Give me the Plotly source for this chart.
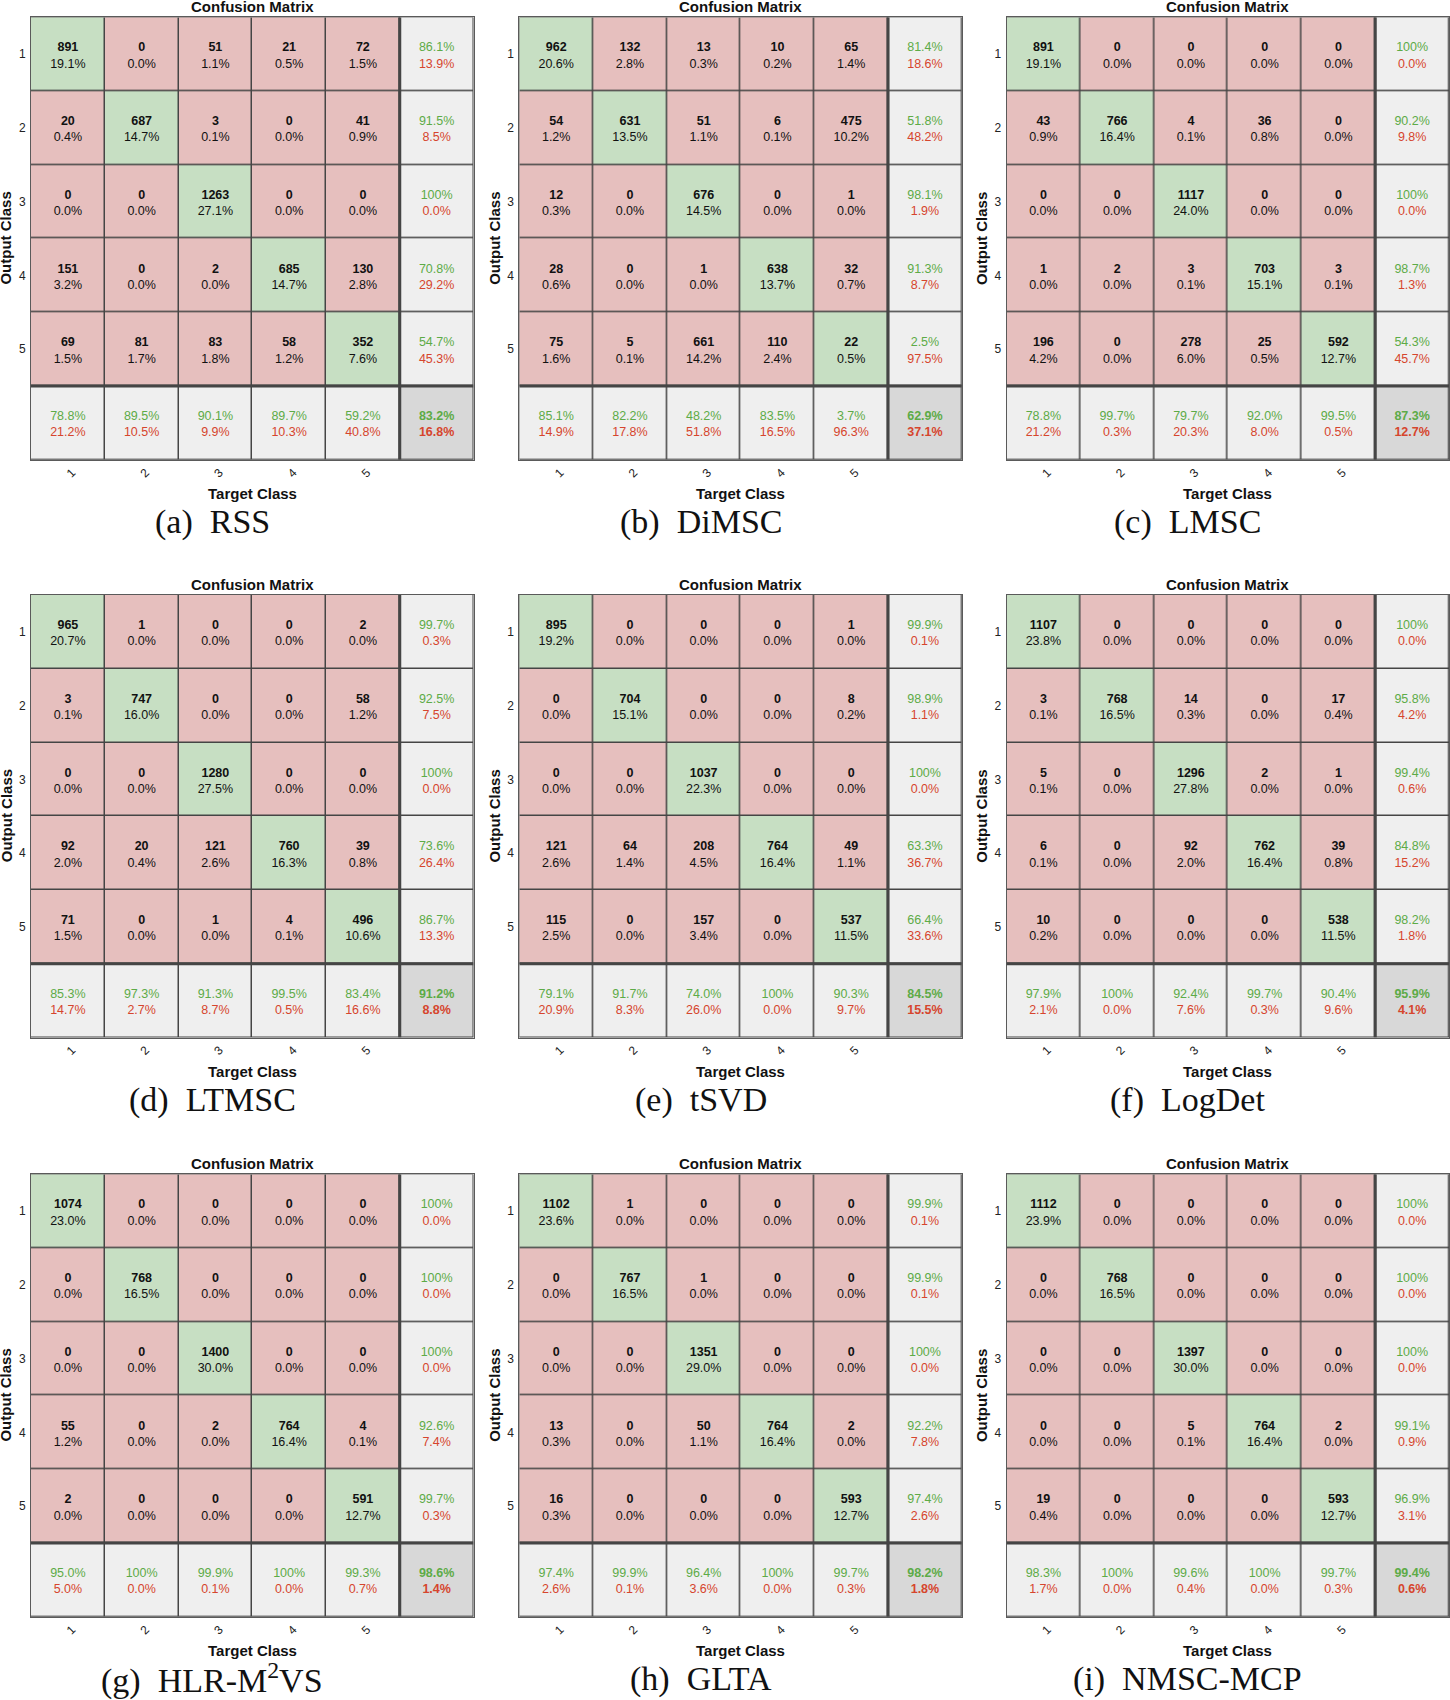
import plotly.graph_objects as go

W, H = 1450, 1700
CLASSES = ["1", "2", "3", "4", "5"]

# confusion counts, rows = output class, cols = target class
RSS = [[891, 0, 51, 21, 72],
       [20, 687, 3, 0, 41],
       [0, 0, 1263, 0, 0],
       [151, 0, 2, 685, 130],
       [69, 81, 83, 58, 352]]
DIMSC = [[962, 132, 13, 10, 65],
         [54, 631, 51, 6, 475],
         [12, 0, 676, 0, 1],
         [28, 0, 1, 638, 32],
         [75, 5, 661, 110, 22]]
LMSC = [[891, 0, 0, 0, 0],
        [43, 766, 4, 36, 0],
        [0, 0, 1117, 0, 0],
        [1, 2, 3, 703, 3],
        [196, 0, 278, 25, 592]]
LTMSC = [[965, 1, 0, 0, 2],
         [3, 747, 0, 0, 58],
         [0, 0, 1280, 0, 0],
         [92, 20, 121, 760, 39],
         [71, 0, 1, 4, 496]]
TSVD = [[895, 0, 0, 0, 1],
        [0, 704, 0, 0, 8],
        [0, 0, 1037, 0, 0],
        [121, 64, 208, 764, 49],
        [115, 0, 157, 0, 537]]
LOGDET = [[1107, 0, 0, 0, 0],
          [3, 768, 14, 0, 17],
          [5, 0, 1296, 2, 1],
          [6, 0, 92, 762, 39],
          [10, 0, 0, 0, 538]]
HLR = [[1074, 0, 0, 0, 0],
       [0, 768, 0, 0, 0],
       [0, 0, 1400, 0, 0],
       [55, 0, 2, 764, 4],
       [2, 0, 0, 0, 591]]
GLTA = [[1102, 1, 0, 0, 0],
        [0, 767, 1, 0, 0],
        [0, 0, 1351, 0, 0],
        [13, 0, 50, 764, 2],
        [16, 0, 0, 0, 593]]
NMSC = [[1112, 0, 0, 0, 0],
        [0, 768, 0, 0, 0],
        [0, 0, 1397, 0, 0],
        [0, 0, 5, 764, 2],
        [19, 0, 0, 0, 593]]

CAPTIONS = ["(a)  RSS", "(b)  DiMSC", "(c)  LMSC",
            "(d)  LTMSC", "(e)  tSVD", "(f)  LogDet",
            "(g)  HLR-M<sup>2</sup>VS", "(h)  GLTA", "(i)  NMSC-MCP"]
MATRICES = [RSS, DIMSC, LMSC, LTMSC, TSVD, LOGDET, HLR, GLTA, NMSC]

# look
SANS = "Liberation Sans"
SERIF = "Liberation Serif"
RED_CELL = "#E6BFBE"
GREEN_CELL = "#C7DFC3"
GREY_CELL = "#EFEFEF"
CORNER_CELL = "#D8D8D8"
GOOD = "#5DAB47"
BAD = "#D6452D"
EDGE = "#454545"

# pixel layout of the 3x3 grid of matrices
COL_LEFT = [31, 519.3, 1006.5]
ROW_TOP = [17.3, 595, 1174.3]
SIZE = 442.5
TEXT_NUDGE = 0.03  # two-line labels sit a touch high in plotly


def pct(v):
    if v == 100:
        return "100%"
    return f"{v:.1f}%"


def summary_text(p, bold=False):
    a, b = pct(p), pct(100 - p)
    if bold:
        a, b = f"<b>{a}</b>", f"<b>{b}</b>"
    return (f"<span style='color:{GOOD}'>{a}</span><br>"
            f"<span style='color:{BAD}'>{b}</span>")


fig = go.Figure()
n = len(CLASSES)
cscale = [[0, RED_CELL], [1 / 6, RED_CELL], [1 / 6, GREEN_CELL], [0.5, GREEN_CELL],
          [0.5, GREY_CELL], [5 / 6, GREY_CELL], [5 / 6, CORNER_CELL], [1, CORNER_CELL]]

for k, (cm, cap) in enumerate(zip(MATRICES, CAPTIONS), start=1):
    r, c = divmod(k - 1, 3)
    xs = "" if k == 1 else str(k)
    xa, ya = f"x{xs}", f"y{xs}"

    total = sum(sum(row) for row in cm)
    row_sum = [sum(row) for row in cm]
    col_sum = [sum(cm[i][j] for i in range(n)) for j in range(n)]
    diag = sum(cm[i][i] for i in range(n))

    z, tx, ty, txt = [], [], [], []
    for i in range(n + 1):
        zr = []
        for j in range(n + 1):
            if i == n and j == n:
                zr.append(3)
                s = summary_text(100 * diag / total, bold=True)
            elif j == n:
                zr.append(2)
                s = summary_text(100 * cm[i][i] / row_sum[i])
            elif i == n:
                zr.append(2)
                s = summary_text(100 * cm[j][j] / col_sum[j])
            else:
                zr.append(1 if i == j else 0)
                s = f"<b>{cm[i][j]}</b><br>{pct(100 * cm[i][j] / total)}"
            tx.append(j)
            ty.append(i + TEXT_NUDGE)
            txt.append(s)
        z.append(zr)

    fig.add_trace(go.Heatmap(
        z=z, x=list(range(n + 1)), y=list(range(n + 1)),
        colorscale=cscale, zmin=0, zmax=3, showscale=False,
        xgap=1.5, ygap=1.5, hoverinfo="skip", xaxis=xa, yaxis=ya))
    fig.add_trace(go.Scatter(
        x=tx, y=ty, text=txt, mode="text", textposition="middle center",
        textfont=dict(family=SANS, size=12.5, color="#111111"),
        hoverinfo="skip", showlegend=False, xaxis=xa, yaxis=ya))

    # thick separators before the summary row / column
    fig.add_shape(type="line", xref=xa, yref=ya, x0=n - 0.5, x1=n - 0.5,
                  y0=-0.5, y1=n + 0.5, line=dict(color=EDGE, width=3))
    fig.add_shape(type="line", xref=xa, yref=ya, y0=n - 0.5, y1=n - 0.5,
                  x0=-0.5, x1=n + 0.5, line=dict(color=EDGE, width=3))

    left = COL_LEFT[c]
    top = ROW_TOP[r]
    xdom = [left / W, (left + SIZE) / W]
    ydom = [1 - (top + SIZE) / H, 1 - top / H]
    axis_common = dict(showgrid=False, zeroline=False, showline=True, mirror=True,
                       linecolor="#5a5a5a", linewidth=1, ticks="", fixedrange=True,
                       tickfont=dict(family=SANS, size=12, color="#222"))
    fig.layout[f"xaxis{xs}"] = dict(
        domain=xdom, anchor=ya, range=[-0.5, n + 0.5], tickvals=list(range(n)),
        ticktext=CLASSES, tickangle=-45, ticklabelshift=4, **axis_common)
    fig.layout[f"yaxis{xs}"] = dict(
        domain=ydom, anchor=xa, range=[n + 0.5, -0.5], tickvals=list(range(n)),
        ticktext=CLASSES, ticklabelstandoff=2, **axis_common)

    dx, dy = f"{xa} domain", f"{ya} domain"
    lbl = dict(family=SANS, size=15, color="#111")
    fig.add_annotation(text="<b>Confusion Matrix</b>", xref=dx, yref=dy, x=0.5, y=1,
                       yshift=10.5, showarrow=False, font=lbl, yanchor="middle")
    fig.add_annotation(text="<b>Target Class</b>", xref=dx, yref=dy, x=0.5, y=0,
                       yshift=-33.6, showarrow=False, font=lbl, yanchor="middle")
    fig.add_annotation(text="<b>Output Class</b>", xref=dx, yref=dy, x=0, y=0.5,
                       xshift=-25, textangle=-90, showarrow=False, font=lbl,
                       xanchor="center", yanchor="middle")
    fig.add_annotation(text=cap, xref=dx, yref=dy, x=0.5, y=0, xshift=-40,
                       yshift=-62, showarrow=False, yanchor="middle",
                       font=dict(family=SERIF, size=34, color="#111"))

fig.update_layout(width=W, height=H, margin=dict(l=0, r=0, t=0, b=0),
                  plot_bgcolor=EDGE, paper_bgcolor="white", showlegend=False)
# the page's default body margin would push the figure 8px off the window
fig.write_html("out.html", config={"displayModeBar": False},
               post_script="document.body.style.margin='0px';"
                           "document.body.style.overflow='hidden';")
